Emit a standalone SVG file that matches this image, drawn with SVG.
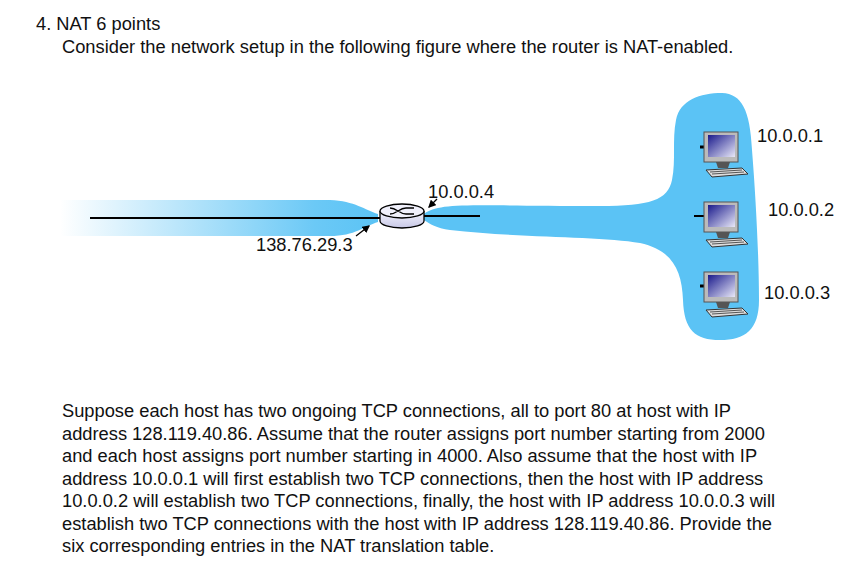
<svg xmlns="http://www.w3.org/2000/svg" width="868" height="576" viewBox="0 0 868 576">
<style>
text{font-family:"Liberation Sans",Arial,sans-serif;fill:#111;}
.t{font-size:18.3px}
.l{font-size:18.3px}
.ln{stroke:#000;stroke-width:2;fill:none}
.ar{stroke:#000;stroke-width:1.3;fill:none;marker-end:url(#ah)}
</style>
<defs>
<linearGradient id="fade" x1="0" x2="1" y1="0" y2="0">
<stop offset="0" stop-color="#5bc3f5" stop-opacity="0"/>
<stop offset="0.8" stop-color="#5bc3f5" stop-opacity="0.9"/>
<stop offset="1" stop-color="#5bc3f5"/>
</linearGradient>
<linearGradient id="scr" x1="0" y1="0" x2="1" y2="1">
<stop offset="0" stop-color="#1a1a8c"/><stop offset="1" stop-color="#e8e8f8"/>
</linearGradient>
<linearGradient id="rt" x1="0" y1="0" x2="0" y2="1">
<stop offset="0" stop-color="#f4f4ff"/><stop offset="1" stop-color="#c8c8e6"/>
</linearGradient>
<marker id="ah" markerWidth="6" markerHeight="6" refX="5" refY="3" orient="auto"><path d="M0,0 L6,3 L0,6 z" fill="#000"/></marker>
<g id="pc">
<rect x="-4" y="0" width="34" height="30" fill="#bbb" stroke="#555" stroke-width="1"/>
<rect x="0" y="3" width="27" height="22" fill="url(#scr)"/>
<path d="M8,30 L10,36 L20,36 L22,30 z" fill="#555"/>
<path d="M-2,38 L34,36 L40,42 L4,45 z" fill="#ddd" stroke="#333" stroke-width="1"/>
<path d="M2,40 L34,38 M4,42 L36,40" stroke="#333" stroke-width="0.8"/>
</g>
</defs>
<rect width="868" height="576" fill="#fff"/>
<text x="36" y="30" class="t">4.  NAT 6 points</text>
<text x="62" y="53" class="t">Consider the network setup in the following figure where the router is NAT-enabled.</text>

<g id="networks">
<path d="M60,200 L330,200 C355,201 365,210 378,214 L378,222 C365,226 355,236 330,236 L60,236 z" fill="url(#fade)"/>
<path d="M424,214 C440,202 470,206 600,206 C650,206 668,200 672,180 C676,160 672,140 676,120 C680,100 700,93 722,93 C742,94 750,110 752,150 C756,200 759,260 759,300 C759,330 745,340 720,340 C695,340 684,330 683,300 C682,270 672,250 640,243 C600,236 520,238 450,230 C436,228 430,224 424,220 z" fill="#5bc3f5"/>
</g>
<g id="connectors">
<line x1="90" y1="218" x2="380" y2="218" class="ln"/>
<line x1="424" y1="216" x2="480" y2="216" class="ln"/>
<line x1="700" y1="147" x2="707" y2="147" stroke="#000" stroke-width="3"/>
<line x1="694" y1="216" x2="707" y2="216" class="ln"/>
<line x1="700" y1="286" x2="707" y2="286" stroke="#000" stroke-width="3"/>
<line x1="356" y1="236" x2="369" y2="226" class="ar"/>
<line x1="437" y1="199" x2="429" y2="207" class="ar"/>
</g>
<g id="router">
<path d="M380,211 L380,221 A22,7 0 0 0 424,221 L424,211" fill="url(#rt)" stroke="#000" stroke-width="1.3"/>
<ellipse cx="402" cy="211" rx="22" ry="7" fill="#f0f0fb" stroke="#000" stroke-width="1.3"/>
<path d="M390,208 C397,208 399,214 406,214 L414,214 M390,214 C397,214 399,208 406,208 L414,208" stroke="#000" stroke-width="1.3" fill="none"/>
</g>
<g id="host1"><use href="#pc" x="708" y="132"/></g>
<g id="host2"><use href="#pc" x="708" y="202"/></g>
<g id="host3"><use href="#pc" x="708" y="272"/></g>
<text x="428" y="198" class="l">10.0.0.4</text>
<text x="256" y="251" class="l">138.76.29.3</text>
<text x="757" y="142" class="l">10.0.0.1</text>
<text x="768" y="216" class="l">10.0.0.2</text>
<text x="764" y="299" class="l">10.0.0.3</text>

<g>
<text x="62" y="417" class="t">Suppose each host has two ongoing TCP connections, all to port 80 at host with IP</text>
<text x="62" y="439.5" class="t">address 128.119.40.86. Assume that the router assigns port number starting from 2000</text>
<text x="62" y="462" class="t">and each host assigns port number starting in 4000. Also assume that the host with IP</text>
<text x="62" y="484.5" class="t">address 10.0.0.1 will first establish two TCP connections, then the host with IP address</text>
<text x="62" y="507" class="t">10.0.0.2 will establish two TCP connections, finally, the host with IP address 10.0.0.3 will</text>
<text x="62" y="529.5" class="t">establish two TCP connections with the host with IP address 128.119.40.86. Provide the</text>
<text x="62" y="552" class="t">six corresponding entries in the NAT translation table.</text>
</g>
</svg>
